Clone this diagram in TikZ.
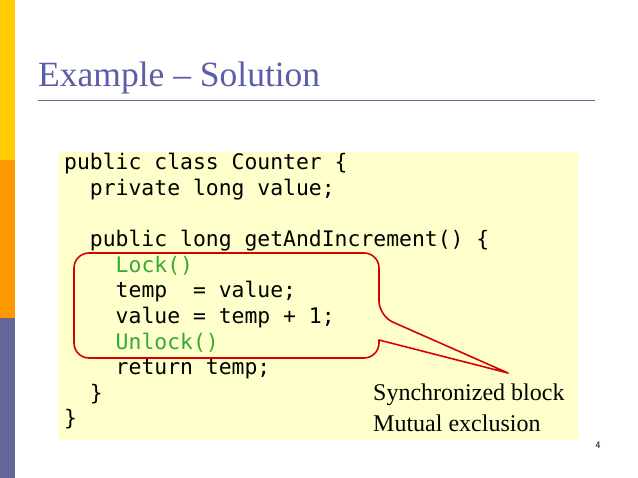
\documentclass[tikz,border=0pt]{standalone}
\usepackage{fontspec}
\setmainfont{Liberation Serif}
\setmonofont{DejaVu Sans Mono}
\definecolor{titlec}{HTML}{5B5EA6}
\definecolor{codebg}{HTML}{FFFFCC}
\definecolor{grn}{HTML}{33AA33}
\definecolor{bary}{HTML}{FFCC00}
\definecolor{baro}{HTML}{FF9900}
\definecolor{barp}{HTML}{666699}
\tikzset{codeline/.style={anchor=base west,inner sep=0pt,font=\fontsize{21.4}{21.4}\ttfamily}}
\begin{document}
\begin{tikzpicture}[x=1pt,y=-1pt]
\useasboundingbox (0,0) rectangle (638,478);
\fill[white] (0,0) rectangle (638,478);
\fill[bary] (0,0) rectangle (15,160);
\fill[baro] (0,160) rectangle (15,318);
\fill[barp] (0,318) rectangle (15,478);
\node[anchor=base west,inner sep=0pt,text=titlec,font=\fontsize{35.5}{35.5}\selectfont] (title) at (38,87) {Example – Solution};
\draw[barp,line width=1pt] (38,101) -- (595,101);
\fill[codebg] (58,152) rectangle (578,440);
\node[codeline] (l1) at (64,170) {public class Counter \{};
\node[codeline] (l2) at (64,195.6) {\ \ private long value;};
\node[codeline] (l4) at (64,246.8) {\ \ public long getAndIncrement() \{};
\node[codeline,text=grn] (l5) at (64,272.4) {\ \ \ \ Lock()};
\node[codeline] (l6) at (64,298) {\ \ \ \ temp\ \ = value;};
\node[codeline] (l7) at (64,323.6) {\ \ \ \ value = temp + 1;};
\node[codeline,text=grn] (l8) at (64,349.2) {\ \ \ \ Unlock()};
\node[codeline] (l9) at (64,374.8) {\ \ \ \ return temp;};
\node[codeline] (l10) at (64,400.4) {\ \ \}};
\node[codeline] (l11) at (64,426) {\}};
\coordinate (tip) at (508,373);
\draw[red!85!black,line width=1.6pt,line join=round]
  (379,316) -- (tip) -- (379,340) [rounded corners=15pt] -- (379,358) -- (74,358) -- (74,253) -- (379,253) -- cycle;
\node[anchor=base west,inner sep=0pt,font=\fontsize{24}{24}\selectfont] (s1) at (373,401) {Synchronized block};
\node[anchor=base west,inner sep=0pt,font=\fontsize{24}{24}\selectfont] (s2) at (373,432) {Mutual exclusion};
\node[anchor=base,inner sep=0pt,font=\fontsize{10}{10}\sffamily] (pg) at (598,449) {4};
\end{tikzpicture}
\end{document}
